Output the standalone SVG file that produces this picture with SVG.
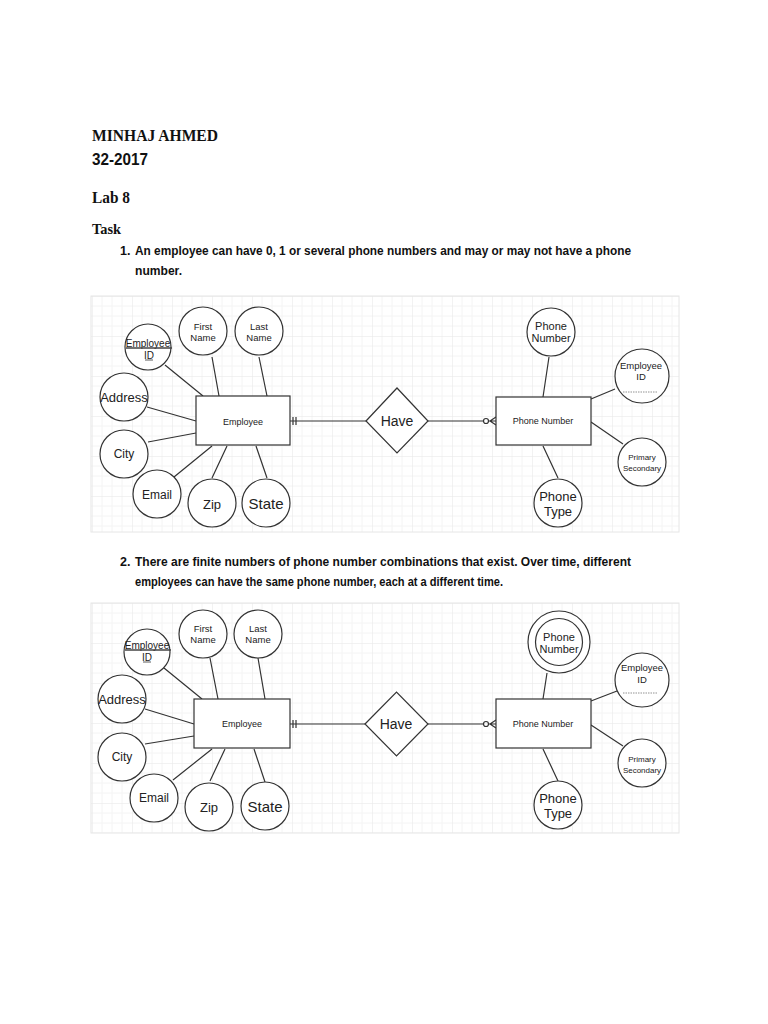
<svg xmlns="http://www.w3.org/2000/svg" width="768" height="1024" viewBox="0 0 768 1024">
<style>
.h{font-family:"Liberation Serif",serif;font-weight:bold;fill:#111}
.b{font-family:"Liberation Sans",Arial,sans-serif;font-weight:bold;fill:#111;font-size:12.5px}
.n{font-family:"Liberation Sans",Arial,sans-serif;fill:#222;text-anchor:middle}
.s{fill:#fff;stroke:#333;stroke-width:1.2}
.c{stroke:#333;stroke-width:1.2;fill:none}
</style>
<defs>
<pattern id="g1" patternUnits="userSpaceOnUse" x="92" y="296" width="40" height="40">
<path d="M10 0V40M20 0V40M30 0V40M0 10H40M0 20H40M0 30H40" stroke="#f4f4f4" stroke-width="1"/>
<path d="M0 0V40M0 0H40" stroke="#e6e6e6" stroke-width="1"/>
</pattern>
<pattern id="g2" patternUnits="userSpaceOnUse" x="92" y="603" width="40" height="40">
<path d="M10 0V40M20 0V40M30 0V40M0 10H40M0 20H40M0 30H40" stroke="#f4f4f4" stroke-width="1"/>
<path d="M0 0V40M0 0H40" stroke="#e6e6e6" stroke-width="1"/>
</pattern>
</defs>
<rect width="768" height="1024" fill="#fff"/>

<g id="header">
<text class="h" x="92" y="141" font-size="17" textLength="126" lengthAdjust="spacingAndGlyphs">MINHAJ AHMED</text>
<text class="h" x="92" y="165" font-size="17" textLength="56" lengthAdjust="spacingAndGlyphs" style="font-family:'Liberation Sans',sans-serif">32-2017</text>
<text class="h" x="92" y="203" font-size="16" textLength="38" lengthAdjust="spacingAndGlyphs">Lab 8</text>
<text class="h" x="92" y="234" font-size="14" textLength="29" lengthAdjust="spacingAndGlyphs">Task</text>
<text class="b" x="120" y="255">1.</text>
<text class="b" x="135" y="255" textLength="496" lengthAdjust="spacingAndGlyphs">An employee can have 0, 1 or several phone numbers and may or may not have a phone</text>
<text class="b" x="135" y="275" textLength="47" lengthAdjust="spacingAndGlyphs">number.</text>
<text class="b" x="120" y="566">2.</text>
<text class="b" x="135" y="566" textLength="496" lengthAdjust="spacingAndGlyphs">There are finite numbers of phone number combinations that exist. Over time, different</text>
<text class="b" x="135" y="586" textLength="368" lengthAdjust="spacingAndGlyphs">employees can have the same phone number, each at a different time.</text>
</g>

<!-- Diagram 1 -->
<rect x="91" y="296" width="588" height="236" fill="url(#g1)" stroke="#e6e6e6"/>
<g id="connectors1">
<path class="c" d="M165 365L203 396M212 357L219 396M259 357L267 396M147 407L196 421M148 442L196 433M174 477L212 446M212 478L227 446M267 478L256 446"/>
<path class="c" d="M549 357L543 397M615 389L591 399M591 422L623 444M543 446L558 478"/>
<path class="c" d="M290 421H366M293 417V425M296 417V425"/>
<path class="c" d="M428 421H483.5M488.5 421H496M490 421L496 417M490 421L496 425"/>
<circle class="c" cx="486" cy="421" r="2.5"/>
</g>
<g id="employee1"><rect class="s" x="196" y="396" width="94" height="49"/><text class="n" x="243" y="425" font-size="9">Employee</text></g>
<g id="have1"><polygon class="s" points="366,421 397,388 428,421 397,453"/><text class="n" x="397" y="426" font-size="14">Have</text></g>
<g id="phone1"><rect class="s" x="496" y="397" width="95" height="48"/><text class="n" x="543" y="424" font-size="9">Phone Number</text></g>
<g id="empid1"><circle class="s" cx="148" cy="347" r="23"/><text class="n" x="148" y="346.5" font-size="10">Employee</text><text class="n" x="149" y="358.5" font-size="10">ID</text><path d="M126 348H172" stroke="#444" stroke-width="1.3"/><path d="M145 360H153" stroke="#333" stroke-width="0.8"/></g>
<g id="firstname1"><circle class="s" cx="203" cy="331" r="24"/><text class="n" x="203" y="329.5" font-size="9.5">First</text><text class="n" x="203" y="341" font-size="9.5">Name</text></g>
<g id="lastname1"><circle class="s" cx="259" cy="331" r="24"/><text class="n" x="259" y="329.5" font-size="9.5">Last</text><text class="n" x="259" y="341" font-size="9.5">Name</text></g>
<g id="address1"><circle class="s" cx="124" cy="397" r="24"/><text class="n" x="124" y="402" font-size="13">Address</text></g>
<g id="city1"><circle class="s" cx="124" cy="454" r="24"/><text class="n" x="124" y="458" font-size="12">City</text></g>
<g id="email1"><circle class="s" cx="157" cy="494" r="24"/><text class="n" x="157" y="499" font-size="12">Email</text></g>
<g id="zip1"><circle class="s" cx="212" cy="503" r="24"/><text class="n" x="212" y="509" font-size="13">Zip</text></g>
<g id="state1"><circle class="s" cx="266" cy="503" r="24"/><text class="n" x="266" y="509" font-size="15">State</text></g>
<g id="pnattr1"><circle class="s" cx="551" cy="332" r="24"/><text class="n" x="551" y="330" font-size="11">Phone</text><text class="n" x="551" y="342" font-size="11">Number</text></g>
<g id="empid1r"><circle class="s" cx="642" cy="376" r="27"/><text class="n" x="641" y="369" font-size="9.5">Employee</text><text class="n" x="641" y="380" font-size="9.5">ID</text><path d="M623 392H658" stroke="#777" stroke-width="0.8" stroke-dasharray="1.5,1"/></g>
<g id="primary1"><circle class="s" cx="642" cy="462" r="24"/><text class="n" x="642" y="460" font-size="8">Primary</text><text class="n" x="642" y="471" font-size="8">Secondary</text></g>
<g id="ptype1"><circle class="s" cx="558" cy="503" r="24"/><text class="n" x="558" y="501" font-size="13">Phone</text><text class="n" x="558" y="516" font-size="13">Type</text></g>

<!-- Diagram 2 -->
<rect x="91" y="603" width="588" height="230" fill="url(#g2)" stroke="#e6e6e6"/>
<g id="connectors2">
<path class="c" d="M164 668L202 699M210 658L218 699M258 658L265 699M145 709L194 724M145 744L194 736M173 780L212 749M210 781L225 749M265 782L254 749"/>
<path class="c" d="M547 673L543 699M617 691L591 701M591 725L623 746M543 749L558 781"/>
<path class="c" d="M290 724H365M293 720V728M296 720V728"/>
<path class="c" d="M428 724H483.5M488.5 724H496M490 724L496 720M490 724L496 728"/>
<circle class="c" cx="486" cy="724" r="2.5"/>
</g>
<g id="employee2"><rect class="s" x="194" y="699" width="96" height="49"/><text class="n" x="242" y="727" font-size="9">Employee</text></g>
<g id="have2"><polygon class="s" points="365,724 396.5,692 428,724 396.5,756"/><text class="n" x="396" y="729" font-size="14">Have</text></g>
<g id="phone2"><rect class="s" x="496" y="699" width="95" height="49"/><text class="n" x="543" y="727" font-size="9">Phone Number</text></g>
<g id="empid2"><circle class="s" cx="147" cy="652" r="23"/><text class="n" x="147" y="648.5" font-size="10">Employee</text><text class="n" x="147" y="660.5" font-size="10">ID</text><path d="M125 650H171" stroke="#444" stroke-width="1.3"/><path d="M143 662H151" stroke="#333" stroke-width="0.8"/></g>
<g id="firstname2"><circle class="s" cx="203" cy="634" r="24"/><text class="n" x="203" y="631.5" font-size="9.5">First</text><text class="n" x="203" y="643" font-size="9.5">Name</text></g>
<g id="lastname2"><circle class="s" cx="258" cy="634" r="24"/><text class="n" x="258" y="631.5" font-size="9.5">Last</text><text class="n" x="258" y="643" font-size="9.5">Name</text></g>
<g id="address2"><circle class="s" cx="122" cy="699" r="24"/><text class="n" x="122" y="704" font-size="13">Address</text></g>
<g id="city2"><circle class="s" cx="122" cy="757" r="24"/><text class="n" x="122" y="761" font-size="12">City</text></g>
<g id="email2"><circle class="s" cx="154" cy="798" r="24"/><text class="n" x="154" y="802" font-size="12">Email</text></g>
<g id="zip2"><circle class="s" cx="209" cy="807" r="24"/><text class="n" x="209" y="812" font-size="13">Zip</text></g>
<g id="state2"><circle class="s" cx="265" cy="806" r="24"/><text class="n" x="265" y="812" font-size="15">State</text></g>
<g id="pnattr2"><circle class="s" cx="559" cy="642" r="31"/><circle class="s" cx="559" cy="642" r="23.5"/><text class="n" x="559" y="641" font-size="11">Phone</text><text class="n" x="559" y="653" font-size="11">Number</text></g>
<g id="empid2r"><circle class="s" cx="642" cy="680" r="27"/><text class="n" x="642" y="671" font-size="9.5">Employee</text><text class="n" x="642" y="683" font-size="9.5">ID</text><path d="M623 693H658" stroke="#777" stroke-width="0.8" stroke-dasharray="1.5,1"/></g>
<g id="primary2"><circle class="s" cx="642" cy="763" r="24"/><text class="n" x="642" y="762" font-size="8">Primary</text><text class="n" x="642" y="773" font-size="8">Secondary</text></g>
<g id="ptype2"><circle class="s" cx="558" cy="805" r="24"/><text class="n" x="558" y="803" font-size="13">Phone</text><text class="n" x="558" y="818" font-size="13">Type</text></g>
</svg>
